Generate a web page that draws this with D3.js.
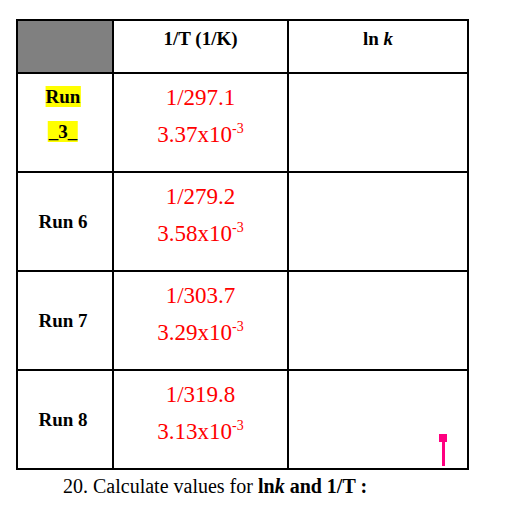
<!DOCTYPE html>
<html><head><meta charset="utf-8">
<script src="https://cdn.jsdelivr.net/npm/d3@7"></script>
<style>body{margin:0;background:#fff}</style>
</head><body>
<svg id="t" width="509" height="513"></svg>
<script>
const runs = ['Run 3', 'Run 6', 'Run 7', 'Run 8'];
const fractions = ['1/297.1', '1/279.2', '1/303.7', '1/319.8'];
const mantissas = ['3.37', '3.58', '3.29', '3.13'];
const exponent = '-3';

(function () {
const svg = d3.select('#t');
const font = 'Liberation Serif, Times New Roman, serif';
const left = 17, right = 468, c1 = 113, c2 = 288, tableTop = 20, headBot = 73, bottom = 469;

const y = d3.scaleBand().domain(runs).range([headBot, bottom]);

// header grey cell
svg.append('rect').attr('x', left).attr('y', tableTop).attr('width', c1 - left).attr('height', headBot - tableTop).attr('fill', '#808080');

const g = svg.append('g').attr('font-family', font);

// header text
g.append('text').attr('x', (c1 + c2) / 2).attr('y', 45).attr('text-anchor', 'middle')
  .attr('font-size', 19).attr('font-weight', 'bold').text('1/T (1/K)');
const lnk = g.append('text').attr('x', (c2 + right) / 2).attr('y', 45).attr('text-anchor', 'middle')
  .attr('font-size', 19).attr('font-weight', 'bold');
lnk.append('tspan').text('ln ');
lnk.append('tspan').attr('font-style', 'italic').text('k');

runs.forEach((r, i) => {
  const y0 = y(r), mid = y0 + y.bandwidth() / 2;
  if (i === 0) {
    // highlighted Run / _3_
    const hl = [['Run', y0 + 30], ['_3_', y0 + 65]];
    hl.forEach(([s, by]) => {
      const t = g.append('text').attr('x', 63).attr('y', by).attr('text-anchor', 'middle')
        .attr('font-size', 19).attr('font-weight', 'bold').text(s);
      const b = t.node().getBBox();
      g.insert('rect', 'text').attr('x', b.x).attr('y', by - 17).attr('width', b.width).attr('height', 21).attr('fill', '#ffff00');
    });
  } else {
    g.append('text').attr('x', 63).attr('y', mid + 6).attr('text-anchor', 'middle')
      .attr('font-size', 19).attr('font-weight', 'bold').text(r);
  }
  g.append('text').attr('x', (c1 + c2) / 2).attr('y', y0 + 32).attr('text-anchor', 'middle')
    .attr('font-size', 23).attr('fill', '#ff0000').text(fractions[i]);
  const m = g.append('text').attr('x', (c1 + c2) / 2).attr('y', y0 + 69).attr('text-anchor', 'middle')
    .attr('font-size', 23).attr('fill', '#ff0000');
  m.append('tspan').text(mantissas[i] + 'x10');
  m.append('tspan').attr('dy', -9).attr('font-size', 14).text(exponent);
});

// grid lines
const lines = svg.append('g').attr('stroke', '#000').attr('stroke-width', 2);
[tableTop, headBot].concat(runs.map(r => y(r) + y.bandwidth())).forEach(v =>
  lines.append('line').attr('x1', left - 1).attr('x2', right + 1).attr('y1', v).attr('y2', v));
[left, c1, c2, right].forEach(v =>
  lines.append('line').attr('x1', v).attr('x2', v).attr('y1', tableTop).attr('y2', bottom));

// pink marker
svg.append('rect').attr('x', 439).attr('y', 434).attr('width', 8).attr('height', 8).attr('fill', '#ff0080');
svg.append('rect').attr('x', 442).attr('y', 440).attr('width', 3).attr('height', 26).attr('fill', '#ff0080');

// caption
const cap = g.append('text').attr('x', 63).attr('y', 493).attr('font-size', 20);
cap.append('tspan').text('20. Calculate values for  ');
cap.append('tspan').attr('font-weight', 'bold').text('ln');
cap.append('tspan').attr('font-weight', 'bold').attr('font-style', 'italic').text('k');
cap.append('tspan').attr('font-weight', 'bold').text(' and 1/T :');
})();
</script>
</body></html>
